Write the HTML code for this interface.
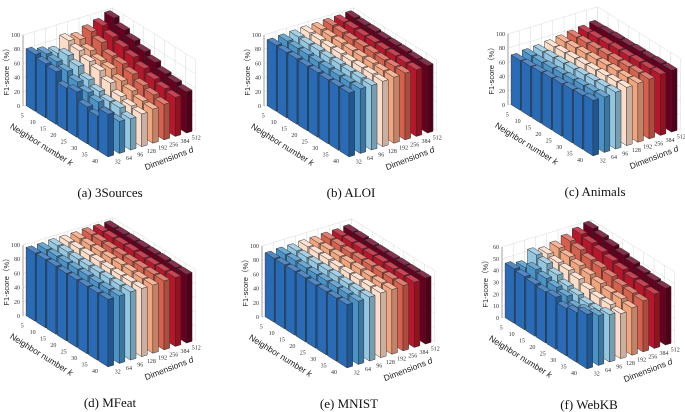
<!DOCTYPE html>
<html><head><meta charset="utf-8"><style>
html,body{margin:0;padding:0;background:#fff;width:685px;height:412px;overflow:hidden}
svg{display:block}
</style></head><body>
<svg id="fig" width="685" height="412" viewBox="0 0 685 412" xmlns="http://www.w3.org/2000/svg"></svg>
<script>
const kLabels = ["5","10","15","20","25","30","35","40"];
const dLabels = ["32","64","96","128","192","256","384","512"];
const dColors = ["#2a6bb5","#4a93c8","#93c6e0","#fddcc8","#f2a47f","#d6604d","#b8172b","#67001f"];
const zTicks100 = [0,20,40,60,80,100];
const zTicks60 = [0,10,20,30,40,50,60];
// rows: k=5..40 ; columns: d=32..512
const sources3 = [
 [80,76,72,85,82,88,92,98],
 [76,74,78,80,75,82,85,90],
 [74,70,72,74,70,72,80,84],
 [60,64,62,70,68,70,75,78],
 [64,58,55,62,60,65,68,72],
 [52,54,50,52,55,58,62,65],
 [48,46,50,48,50,54,58,62],
 [60,45,44,46,48,50,55,58]];
const aloi = [
 [93,94,95,96,96,97,97,98],
 [92,93,94,95,95,96,97,97],
 [92,93,94,94,95,95,96,97],
 [91,92,93,94,94,95,96,96],
 [91,92,93,93,94,95,95,96],
 [90,91,92,93,94,94,95,96],
 [90,91,92,93,93,94,95,95],
 [90,91,91,92,93,94,94,95]];
const animals = [
 [70,72,73,75,77,79,81,83],
 [71,72,74,76,78,80,82,84],
 [72,73,75,77,79,81,83,85],
 [73,74,76,78,80,82,84,85],
 [74,75,77,79,81,83,84,86],
 [75,76,78,80,82,83,85,86],
 [76,77,79,81,82,84,85,87],
 [78,78,80,82,83,84,86,87]];
const mfeat = [
 [96,96,97,97,97,98,98,98],
 [96,96,97,97,97,98,98,98],
 [96,96,96,97,97,97,98,98],
 [95,96,96,97,97,97,98,98],
 [95,96,96,96,97,97,97,98],
 [95,95,96,96,97,97,97,98],
 [95,95,96,96,96,97,97,97],
 [95,95,96,96,96,97,97,97]];
const mnist = [
 [90,91,91,92,92,93,93,94],
 [90,91,91,92,92,93,93,94],
 [90,90,91,92,92,92,93,93],
 [90,90,91,91,92,92,93,93],
 [89,90,91,91,92,92,93,93],
 [89,90,90,91,91,92,92,93],
 [89,90,90,91,91,92,92,93],
 [89,89,90,91,91,92,92,93]];
const webkb = [
 [46,44,52,50,52,55,58,60],
 [45,48,50,48,50,53,56,58],
 [44,46,46,47,48,50,54,56],
 [43,44,42,45,46,49,52,54],
 [44,42,40,42,44,47,50,52],
 [40,38,38,40,42,45,48,50],
 [42,40,38,40,42,44,47,49],
 [46,42,40,38,40,43,46,48]];

const NS="http://www.w3.org/2000/svg";
const svg=document.getElementById('fig');
function mk(tag,attrs,parent){const e=document.createElementNS(NS,tag);for(const a in attrs)e.setAttribute(a,attrs[a]);(parent||svg).appendChild(e);return e;}
function shade(hex,f){let r=parseInt(hex.substr(1,2),16),g=parseInt(hex.substr(3,2),16),b=parseInt(hex.substr(5,2),16);
 if(f>1){const t=f-1;r=r+(255-r)*t;g=g+(255-g)*t;b=b+(255-b)*t;}else{r*=f;g*=f;b*=f;}
 return "rgb("+Math.round(r)+","+Math.round(g)+","+Math.round(b)+")";}

function panel(name,caption,data,zmax,zticks,ox,oy){
 const g=mk('g',{});
 
 
 const Lx=ox+23,Ly=oy+106,zs=71/zmax;
 const P=(k,d,z)=>[Lx+k*10.4+d*11.2, Ly+k*6.5-d*3.4-z*zs];
 const pts=a=>a.map(p=>p[0].toFixed(2)+","+p[1].toFixed(2)).join(" ");
 const grid=mk('g',{stroke:'#d8d8d8','stroke-width':0.5,fill:'none'},g);
 
 
 zticks.forEach(z=>{mk('polyline',{points:pts([P(0,0,z),P(0,8,z),P(8,8,z)])},grid);});
 for(let j=0;j<=8;j++){mk('line',{x1:P(0,j,0)[0],y1:P(0,j,0)[1],x2:P(0,j,zmax)[0],y2:P(0,j,zmax)[1]},grid);}
 for(let i=0;i<=8;i++){mk('line',{x1:P(i,8,0)[0],y1:P(i,8,0)[1],x2:P(i,8,zmax)[0],y2:P(i,8,zmax)[1]},grid);}
 const za=mk('g',{},g);
 
 
 mk('line',{x1:P(0,0,0)[0],y1:P(0,0,0)[1],x2:P(0,0,zmax)[0],y2:P(0,0,zmax)[1],stroke:'#555','stroke-width':0.5},za);
 zticks.forEach(z=>{const p=P(0,0,z);const t=mk('text',{x:p[0]-3,y:p[1]+2,'text-anchor':'end','font-size':6,'font-family':'Liberation Serif, serif',fill:'#333'},za);t.textContent=z;
  });
 const cells=[];
 for(let i=0;i<8;i++)for(let j=0;j<8;j++)cells.push([i,j]);
 cells.sort((a,b)=>(a[0]-a[1])-(b[0]-b[1]) || (a[0]-b[0]));
 cells.forEach(([i,j])=>{
  const v=data[i][j],c=dColors[j];
  const bg=mk('g',{stroke:'#2a2a2a','stroke-width':0.45,'stroke-linejoin':'round'},g);
  
  
  const k0=i+0.06,k1=i+0.94,d0=j+0.22,d1=j+0.72;
  mk('polygon',{points:pts([P(k0,d0,0),P(k1,d0,0),P(k1,d0,v),P(k0,d0,v)]),fill:c},bg);
  mk('polygon',{points:pts([P(k1,d0,0),P(k1,d1,0),P(k1,d1,v),P(k1,d0,v)]),fill:shade(c,0.8)},bg);
  mk('polygon',{points:pts([P(k0,d0,v),P(k1,d0,v),P(k1,d1,v),P(k0,d1,v)]),fill:shade(c,1.2)},bg);
 });
 kLabels.forEach((l,i)=>{const p=P(i+0.5,0,0);const t=mk('text',{x:p[0]-6,y:p[1]+8,'text-anchor':'middle','font-size':6,'font-family':'Liberation Serif, serif',fill:'#333'},g);t.textContent=l;
  });
 dLabels.forEach((l,j)=>{const p=P(8,j+0.5,0);const t=mk('text',{x:p[0]+6,y:p[1]+7,'text-anchor':'middle','font-size':6,'font-family':'Liberation Serif, serif',fill:'#333'},g);t.textContent=l;
  });
 const zt=mk('text',{x:0,y:0,transform:`translate(${ox+9},${oy+70}) rotate(-90)`,'text-anchor':'middle','font-size':7.5,'font-family':'Liberation Sans, sans-serif',fill:'#222'},g);
 zt.textContent='F1-score（%）';
 
 const kt=mk('text',{x:0,y:0,transform:`translate(${ox+40},${oy+147}) rotate(32)`,'text-anchor':'middle','font-size':8.5,'font-family':'Liberation Sans, sans-serif',fill:'#222'},g);
 kt.innerHTML='Neighbor number <tspan font-style="italic">k</tspan>';
 
 const dt=mk('text',{x:0,y:0,transform:`translate(${ox+170},${oy+161}) rotate(-21)`,'text-anchor':'middle','font-size':8.5,'font-family':'Liberation Sans, sans-serif',fill:'#222'},g);
 dt.innerHTML='Dimensions <tspan font-style="italic">d</tspan>';
 
 const cp=mk('text',{x:ox+110,y:oy+197,'text-anchor':'middle','font-size':13,'font-family':'Liberation Serif, serif',fill:'#111'},g);
 cp.textContent=caption;
 
}
panel('3sources','(a) 3Sources',sources3,100,zTicks100,0,0);
panel('aloi','(b) ALOI',aloi,100,zTicks100,241,0);
panel('animals','(c) Animals',animals,100,zTicks100,485,-1);
panel('mfeat','(d) MFeat',mfeat,100,zTicks100,0,210);
panel('mnist','(e) MNIST',mnist,100,zTicks100,239,211);
panel('webkb','(f) WebKB',webkb,60,zTicks60,479,212);
</script>
</body></html>
